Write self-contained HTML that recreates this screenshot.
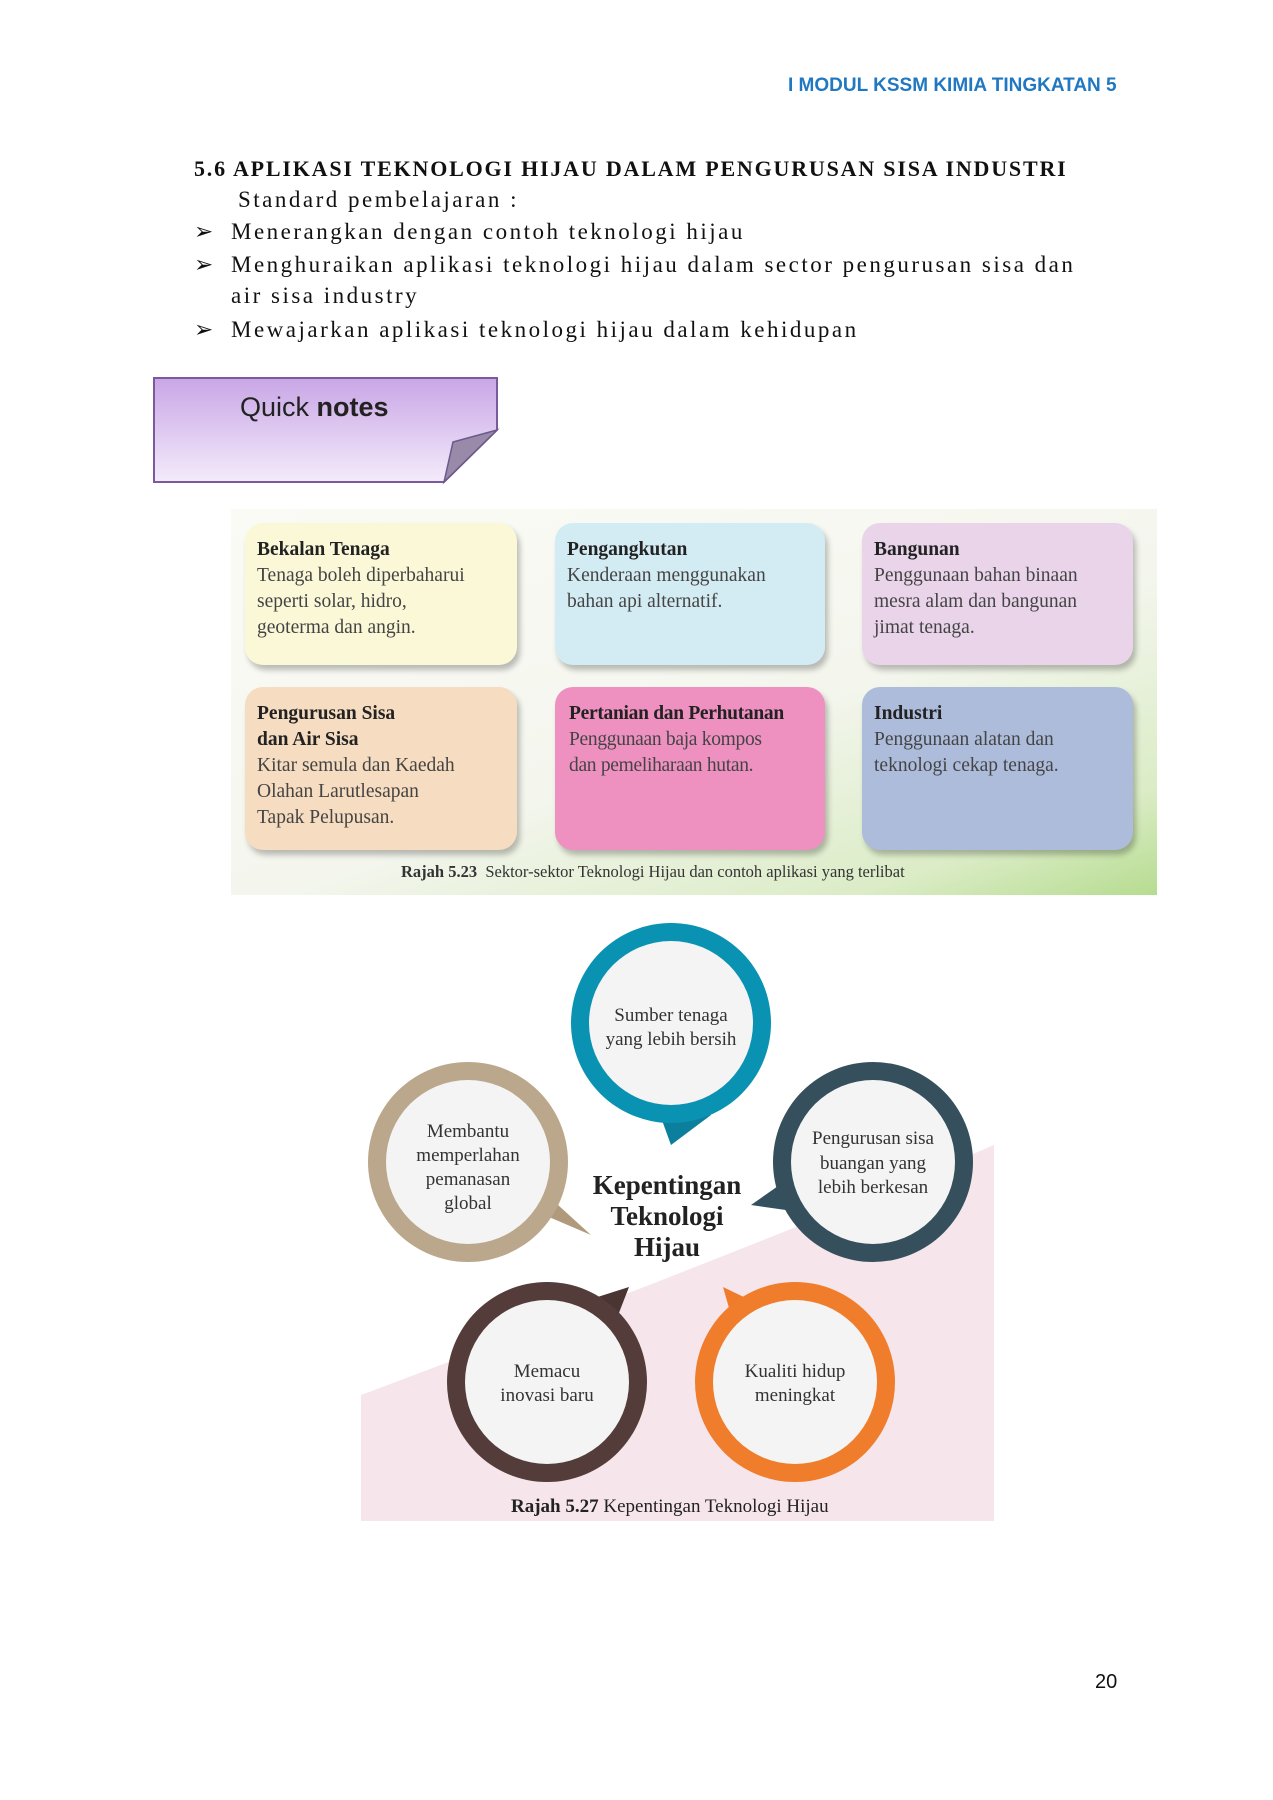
<!DOCTYPE html>
<html><head><meta charset="utf-8"><style>
body{margin:0;width:1273px;height:1800px;background:#fff;position:relative;font-family:"Liberation Serif",serif;overflow:hidden}
.a{position:absolute;white-space:nowrap}
.hdr{left:788px;top:75px;font:bold 19px "Liberation Sans",sans-serif;color:#1f78c1}
.h{left:194px;top:156px;font-weight:bold;font-size:22px;color:#111;letter-spacing:1.8px}
.t{font-size:23px;color:#111;letter-spacing:2.5px}
.box{position:absolute;border-radius:18px;box-shadow:3px 5px 6px rgba(0,0,0,.25);padding:14px 12px;box-sizing:border-box;font-family:"Liberation Serif",serif;font-size:19.5px;line-height:26px;color:#444;white-space:nowrap}
.box b{color:#222}
</style></head><body>
<div class="a hdr">I MODUL KSSM KIMIA TINGKATAN 5</div>
<div class="a h">5.6 APLIKASI TEKNOLOGI HIJAU DALAM PENGURUSAN SISA INDUSTRI</div>
<div class="a t" style="left:238px;top:187px">Standard pembelajaran :</div>
<div class="a t" style="left:194px;top:219px">➢</div><div class="a t" style="left:231px;top:219px">Menerangkan dengan contoh teknologi hijau</div>
<div class="a t" style="left:194px;top:252px">➢</div><div class="a t" style="left:231px;top:252px">Menghuraikan aplikasi teknologi hijau dalam sector pengurusan sisa dan</div>
<div class="a t" style="left:231px;top:283px">air sisa industry</div>
<div class="a t" style="left:194px;top:317px">➢</div><div class="a t" style="left:231px;top:317px">Mewajarkan aplikasi teknologi hijau dalam kehidupan</div>

<svg class="a" style="left:150px;top:374px" width="352" height="112">
<defs><linearGradient id="qg" x1="0" y1="0" x2="0" y2="1"><stop offset="0" stop-color="#c9a6e6"/><stop offset="1" stop-color="#f3ebfa"/></linearGradient></defs>
<polygon points="4,4 347,4 347,56 294,108 4,108" fill="url(#qg)" stroke="#7a5a9c" stroke-width="2"/>
<polygon points="347,56 294,108 303,68" fill="#9a8aaa" stroke="#6a5a8a" stroke-width="1.5"/>
<text x="90" y="42" font-family="Liberation Sans,sans-serif" font-size="27" fill="#222">Quick <tspan font-weight="bold">notes</tspan></text>
</svg>

<div class="a" style="left:231px;top:509px;width:926px;height:386px;background:linear-gradient(160deg,#fbfbf6 0%,#f4f6ee 55%,#dbecc6 85%,#b6dc90 100%)"></div>
<div class="box" style="left:245px;top:523px;width:272px;height:142px;background:#fbf8d8"><b>Bekalan Tenaga</b><br>Tenaga boleh diperbaharui<br>seperti solar, hidro,<br>geoterma dan angin.</div>
<div class="box" style="left:555px;top:523px;width:270px;height:142px;background:#d3ecf4"><b>Pengangkutan</b><br>Kenderaan menggunakan<br>bahan api alternatif.</div>
<div class="box" style="left:862px;top:523px;width:271px;height:142px;background:#ead4ea"><b>Bangunan</b><br>Penggunaan bahan binaan<br>mesra alam dan bangunan<br>jimat tenaga.</div>
<div class="box" style="left:245px;top:687px;width:272px;height:163px;background:#f6dcc0"><b>Pengurusan Sisa<br>dan Air Sisa</b><br>Kitar semula dan Kaedah<br>Olahan Larutlesapan<br>Tapak Pelupusan.</div>
<div class="box" style="left:555px;top:687px;width:270px;height:163px;background:#ee90c0;padding-left:14px;letter-spacing:-.3px"><b>Pertanian dan Perhutanan</b><br>Penggunaan baja kompos<br>dan pemeliharaan hutan.</div>
<div class="box" style="left:862px;top:687px;width:271px;height:163px;background:#aebcdc"><b>Industri</b><br>Penggunaan alatan dan<br>teknologi cekap tenaga.</div>
<div class="a" style="left:401px;top:862px;font-size:16.5px;color:#333"><b>Rajah 5.23</b>&nbsp; Sektor-sektor Teknologi Hijau dan contoh aplikasi yang terlibat</div>

<svg class="a" style="left:361px;top:915px" width="633" height="606" font-family="Liberation Serif,serif">
<path d="M0,480 L0,606 L633,606 L633,230 Q400,330 0,480Z" fill="#f6e6ec"/>
<g>
<polygon points="270,120 350,200 310,230" fill="#0b7f9c"/>
<circle cx="310" cy="108" r="100" fill="#0a92b3"/><circle cx="310" cy="108" r="82" fill="#f4f4f4"/>
<text x="310" y="106" font-size="19" text-anchor="middle" fill="#333">Sumber tenaga</text>
<text x="310" y="130" font-size="19" text-anchor="middle" fill="#333">yang lebih bersih</text>
<polygon points="120,220 230,320 160,290" fill="#b09a7c"/>
<circle cx="107" cy="247" r="100" fill="#bba88c"/><circle cx="107" cy="247" r="82" fill="#f4f4f4"/>
<text x="107" y="222" font-size="19" text-anchor="middle" fill="#333">Membantu</text>
<text x="107" y="246" font-size="19" text-anchor="middle" fill="#333">memperlahan</text>
<text x="107" y="270" font-size="19" text-anchor="middle" fill="#333">pemanasan</text>
<text x="107" y="294" font-size="19" text-anchor="middle" fill="#333">global</text>
<polygon points="490,220 390,290 460,300" fill="#33505e"/>
<circle cx="512" cy="247" r="100" fill="#354f5c"/><circle cx="512" cy="247" r="82" fill="#f4f4f4"/>
<text x="512" y="229" font-size="19" text-anchor="middle" fill="#333">Pengurusan sisa</text>
<text x="512" y="254" font-size="19" text-anchor="middle" fill="#333">buangan yang</text>
<text x="512" y="278" font-size="19" text-anchor="middle" fill="#333">lebih berkesan</text>
<polygon points="180,400 268,372 230,470" fill="#4a3532"/>
<circle cx="186" cy="467" r="100" fill="#533c39"/><circle cx="186" cy="467" r="82" fill="#f4f4f4"/>
<text x="186" y="462" font-size="19" text-anchor="middle" fill="#333">Memacu</text>
<text x="186" y="486" font-size="19" text-anchor="middle" fill="#333">inovasi baru</text>
<polygon points="420,400 362,372 390,470" fill="#f07b2a"/>
<circle cx="434" cy="467" r="100" fill="#f07d2c"/><circle cx="434" cy="467" r="82" fill="#f4f4f4"/>
<text x="434" y="462" font-size="19" text-anchor="middle" fill="#333">Kualiti hidup</text>
<text x="434" y="486" font-size="19" text-anchor="middle" fill="#333">meningkat</text>
</g>
<text x="306" y="279" font-size="27" font-weight="bold" text-anchor="middle" fill="#222">Kepentingan</text>
<text x="306" y="310" font-size="27" font-weight="bold" text-anchor="middle" fill="#222">Teknologi</text>
<text x="306" y="341" font-size="27" font-weight="bold" text-anchor="middle" fill="#222">Hijau</text>
<text x="150" y="597" font-size="19" fill="#222"><tspan font-weight="bold">Rajah 5.27</tspan>  Kepentingan Teknologi Hijau</text>
</svg>
<div class="a" style="left:1095px;top:1671px;font:20px 'Liberation Sans',sans-serif;color:#111">20</div>
</body></html>
